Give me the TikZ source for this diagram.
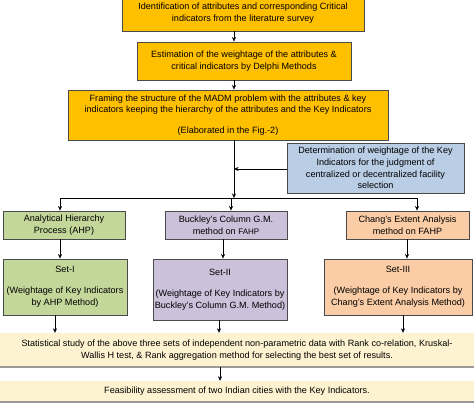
\documentclass[tikz,border=0pt]{standalone}
\usepackage{fontspec}
\setmainfont{Liberation Sans}
\usepackage{xcolor}
\usetikzlibrary{arrows.meta}
\definecolor{boxgold}{HTML}{FFC000}
\definecolor{boxblue}{HTML}{B9CDE5}
\definecolor{boxgreen}{HTML}{C4D79B}
\definecolor{boxlilac}{HTML}{CCC1DA}
\definecolor{boxpeach}{HTML}{FBCDA6}
\definecolor{boxcream}{HTML}{FEF3D0}
\definecolor{boxedge}{HTML}{4A4A4A}
\newcommand{\flowtext}{\fontsize{9.1}{11.8}\selectfont}

\begin{document}
\begin{tikzpicture}[x=1pt,y=-1pt,>={Stealth[length=4.5pt,width=4pt]},
    card/.style={draw=boxedge,line width=0.9pt,align=center,inner sep=1pt,font=\flowtext},
    band/.style={fill=boxcream,align=center,inner sep=0pt,font=\flowtext,minimum width=474pt}]
    \useasboundingbox (0,0) rectangle (474,404);
    \clip (0,0) rectangle (474,404);

    % top chain
    \node[card,fill=boxgold,minimum width=242pt,minimum height=36pt] (ident) at (243,13)
        {Identification of attributes and corresponding Critical\\indicators from the literature survey};
    \node[card,fill=boxgold,minimum width=214pt,minimum height=38pt] (delphi) at (244,61)
        {Estimation of the weightage of the attributes \&\\critical indicators by Delphi Methods};
    \node[card,fill=boxgold,minimum width=320pt,minimum height=50pt] (madm) at (228,115)
        {Framing the structure of the MADM problem with the attributes \& key\\indicators keeping the hierarchy of the attributes and the Key Indicators\\[9pt](Elaborated in the Fig.-2)};
    \node[card,fill=boxblue,minimum width=177pt,minimum height=50pt] (keyind) at (375.5,168)
        {Determination of weightage of the Key\\Indicators for the judgment of\\centralized or decentralized facility\\selection};

    % methods
    \node[card,fill=boxgreen,minimum width=122pt,minimum height=28pt] (ahp) at (64,225)
        {Analytical Hierarchy\\Process (AHP)};
    \node[card,fill=boxlilac,minimum width=122pt,minimum height=28pt] (buck) at (226,225)
        {Buckley's Column G.M.\\method on {\fontsize{8}{11.8}\selectfont FAHP}};
    \node[card,fill=boxpeach,minimum width=123pt,minimum height=28pt] (chang) at (407.5,225)
        {Chang's Extent Analysis\\method on FAHP};

    % result sets
    \node[card,fill=boxgreen,minimum width=124pt,minimum height=56pt] (setone) at (65,287)
        {Set-I\\[9pt](Weightage of Key Indicators\\by AHP Method)};
    \node[card,fill=boxlilac,minimum width=134pt,minimum height=61pt] (settwo) at (220,289.5)
        {Set-II\\[9pt](Weightage of Key Indicators by\\Buckley's Column G.M. Method)};
    \node[card,fill=boxpeach,minimum width=148pt,minimum height=56pt] (setthree) at (398,287)
        {Set-III\\[9pt](Weightage of Key Indicators by\\Chang's Extent Analysis Method)};

    % bottom bands
    \node[band,minimum height=34pt] (stat) at (237,350)
        {Statistical study of the above three sets of independent non-parametric data with Rank co-relation, Kruskal-\\Wallis H test, \& Rank aggregation method for selecting the best set of results.};
    \node[band,minimum height=21pt] (feas) at (237,391.5)
        {Feasibility assessment of two Indian cities with the Key Indicators.};
    \draw[gray!80,line width=1.6pt] (stat.south west) -- (stat.south east);
    \draw[gray!80,line width=1.6pt] (feas.south west) -- (feas.south east);

    % connectors
    \coordinate (split) at (234,198);
    \coordinate (left) at (60,198);
    \coordinate (right) at (417,198);
    \draw[->] (ident.south -| 234,0) -- (delphi.north -| 234,0);
    \draw[->] (delphi.south -| 234,0) -- (madm.north -| 234,0);
    \draw[->] (madm.south -| split) -- (split);
    \draw[->] (keyind.west |- 0,169) -- (234,169);
    \draw (left) -- (right);
    \draw[->] (left) -- (ahp.north -| left);
    \draw[->] (231,198) -- (buck.north -| 231,0);
    \draw[->] (right) -- (chang.north -| right);
    \draw[->] (ahp.south -| 60,0) -- (setone.north -| 60,0);
    \draw[->] (buck.south -| 223,0) -- (settwo.north -| 223,0);
    \draw[->] (chang.south -| 407,0) -- (setthree.north -| 407,0);
    \draw[->] (setone.south -| 55,0) -- (stat.north -| 55,0);
    \draw[->] (settwo.south -| 219,0) -- (stat.north -| 219,0);
    \draw[->] (setthree.south -| 403,0) -- (stat.north -| 403,0);
    \draw[->] (stat.south -| 220,0) -- (feas.north -| 220,0);
  \end{tikzpicture}
\end{document}
